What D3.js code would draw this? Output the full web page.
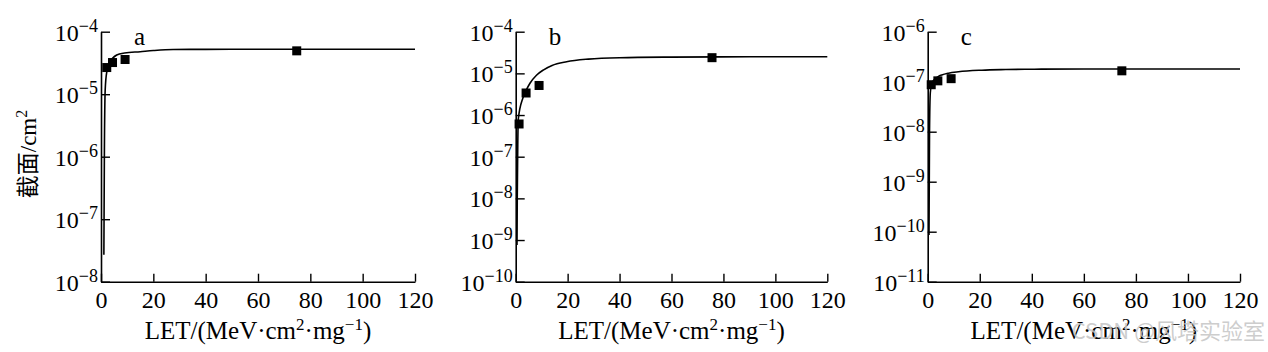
<!DOCTYPE html>
<html>
<head>
<meta charset="utf-8">
<script src="https://cdn.jsdelivr.net/npm/d3@7"></script>
<style>
  body { margin: 0; background: #fff; }
  svg { display: block; }
</style>
</head>
<body>
<div id="chart"></div>
<script>

// X ticks are shared by all three panels.
const let_ticks = [0, 20, 40, 60, 80, 100, 120];

// Panel a: tick exponents, measured points and fitted curve.
const a_exponents = [-8, -7, -6, -5, -4];
const a_let = [2.2, 4.4, 9.2, 74.8];
const a_sigma = [2.67e-5, 3.21e-5, 3.59e-5, 4.94e-5];
const a_fit_let = [1.1, 1.3, 1.6, 2.2, 3.5, 6, 9, 15, 20, 27.6, 40, 60, 90, 120];
const a_fit_sigma = [2.7e-8, 1.28e-6, 1.17e-5, 2.27e-5, 3.27e-5, 4.24e-5, 4.56e-5, 4.79e-5, 5.0e-5, 5.2e-5, 5.22e-5, 5.24e-5, 5.24e-5, 5.24e-5];

// Panel b.
const b_exponents = [-10, -9, -8, -7, -6, -5, -4];
const b_let = [1.3, 4.0, 9.0, 75.6];
const b_sigma = [6.1e-7, 3.38e-6, 5.12e-6, 2.38e-5];
const b_fit_let = [0.5, 0.6, 0.8, 1.0, 2.8, 4.1, 5.5, 8, 10.6, 14, 19.6, 28, 40, 60, 90, 120];
const b_fit_sigma = [7.6e-10, 1e-8, 2e-7, 8e-7, 2.6e-6, 4e-6, 5.8e-6, 9e-6, 1.2e-5, 1.55e-5, 1.9e-5, 2.2e-5, 2.38e-5, 2.46e-5, 2.5e-5, 2.5e-5];

// Panel c.
const c_exponents = [-11, -10, -9, -8, -7, -6];
const c_let = [1.35, 3.9, 9.0, 74.6];
const c_sigma = [8.7e-8, 1.04e-7, 1.15e-7, 1.65e-7];
const c_fit_let = [0.5, 0.7, 1.0, 1.5, 2.5, 4, 5.4, 8, 11.8, 20.8, 30, 41, 60, 90, 120];
const c_fit_sigma = [8.6e-11, 1e-8, 6e-8, 9e-8, 1.1e-7, 1.26e-7, 1.36e-7, 1.48e-7, 1.58e-7, 1.7e-7, 1.75e-7, 1.78e-7, 1.8e-7, 1.8e-7, 1.8e-7];

const panel_names = ['a', 'b', 'c'];

const SERIF = '"Liberation Serif", "Times New Roman", "Noto Sans CJK SC", serif';

// Layout per panel (pixel boxes of the plot area).
const layout = [
  { left: 101,   right: 415,  top: 31.7, bottom: 281.7 },
  { left: 515.7, right: 827.3, top: 31.7, bottom: 281.7 },
  { left: 927.7, right: 1240, top: 31.7, bottom: 281.7 }
];

const panels = [
  { exps: a_exponents, let: a_let, sigma: a_sigma, fit_let: a_fit_let, fit_sigma: a_fit_sigma },
  { exps: b_exponents, let: b_let, sigma: b_sigma, fit_let: b_fit_let, fit_sigma: b_fit_sigma },
  { exps: c_exponents, let: c_let, sigma: c_sigma, fit_let: c_fit_let, fit_sigma: c_fit_sigma }
];

const svg = d3.select('#chart')
  .append('svg')
    .attr('width', 1268)
    .attr('height', 352)
    .style('font-family', SERIF);

svg.append('rect').attr('width', 1268).attr('height', 352).attr('fill', '#fff');

// Append "10" plus a raised exponent to a text node.
function power_label(text, exp, base_size, sup_size, rise){
  text.append('tspan').attr('font-size', base_size).text('10');
  text.append('tspan').attr('font-size', sup_size).attr('dy', -rise).text('\u2212' + Math.abs(exp));
}

panels.forEach(function(p, i){
  const box = layout[i];
  const g = svg.append('g');

  const x = d3.scaleLinear().domain([0, 120]).range([box.left, box.right]);
  const y = d3.scaleLog()
    .domain([Math.pow(10, p.exps[0]), Math.pow(10, p.exps[p.exps.length - 1])])
    .range([box.bottom, box.top]);

  // Y axis, ticks pointing inward.
  const yg = g.append('g')
    .attr('transform', 'translate(' + box.left + ',0)')
    .call(d3.axisLeft(y)
      .tickValues(p.exps.map(function(e){ return Math.pow(10, e); }))
      .tickSize(-9).tickSizeOuter(0).tickFormat(''));
  yg.select('.domain').attr('stroke-width', 1.6);
  yg.selectAll('.tick line').attr('stroke-width', 1.4);
  yg.selectAll('.tick text').remove();
  yg.selectAll('.tick').each(function(d){
    const e = Math.round(Math.log10(d));
    const t = d3.select(this).append('text')
      .attr('x', -3).attr('y', 8.5)
      .attr('text-anchor', 'end')
      .attr('fill', '#000')
      .style('font-family', SERIF);
    power_label(t, e, 24, 18, 9);
  });

  // X axis, ticks pointing inward.
  const xg = g.append('g')
    .attr('transform', 'translate(0,' + box.bottom + ')')
    .call(d3.axisBottom(x).tickValues(let_ticks).tickSize(-8).tickSizeOuter(0));
  xg.select('.domain').attr('stroke-width', 1.6);
  xg.selectAll('.tick line').attr('stroke-width', 1.4);
  xg.selectAll('.tick text')
    .attr('y', 26.5).attr('dy', null)
    .attr('fill', '#000')
    .style('font-family', SERIF)
    .style('font-size', '24px');

  // Fitted curve.
  const line = d3.line()
    .x(function(d){ return x(d[0]); })
    .y(function(d){ return y(d[1]); })
    .curve(d3.curveMonotoneX);
  g.append('path')
    .datum(d3.zip(p.fit_let, p.fit_sigma))
    .attr('d', line)
    .attr('fill', 'none')
    .attr('stroke', '#000')
    .attr('stroke-width', 1.6);

  // Measured points.
  const s = 9;
  g.selectAll('rect.pt')
    .data(d3.zip(p.let, p.sigma))
    .enter().append('rect')
      .attr('class', 'pt')
      .attr('x', function(d){ return x(d[0]) - s / 2; })
      .attr('y', function(d){ return y(d[1]) - s / 2; })
      .attr('width', s)
      .attr('height', s)
      .attr('fill', '#000');

  // Panel letter.
  g.append('text')
    .attr('x', box.left + 33)
    .attr('y', 45)
    .style('font-family', SERIF)
    .style('font-size', '25px')
    .text(panel_names[i]);

  // X axis title.
  const xt = g.append('text')
    .attr('x', (box.left + box.right) / 2)
    .attr('y', 339)
    .attr('text-anchor', 'middle')
    .style('font-family', SERIF)
    .style('font-size', '25px');
  xt.append('tspan').text('LET/(MeV\u00b7cm');
  xt.append('tspan').attr('font-size', 17).attr('dy', -9).text('2');
  xt.append('tspan').attr('dy', 9).text('\u00b7mg');
  xt.append('tspan').attr('font-size', 17).attr('dy', -9).text('\u22121');
  xt.append('tspan').attr('dy', 9).text(')');
});

// Y axis title, only on the first panel.
const yt = svg.append('text')
  .attr('transform', 'translate(36,154) rotate(-90)')
  .attr('text-anchor', 'middle')
  .style('font-family', SERIF)
  .style('font-size', '23px');
yt.append('tspan').text('截面/cm');
yt.append('tspan').attr('font-size', 16).attr('dy', -9).text('2');

// Watermark in the lower right corner.
svg.append('text')
  .attr('x', 1265)
  .attr('y', 339)
  .attr('text-anchor', 'end')
  .style('font-family', '"Noto Sans CJK SC", "Noto Sans", sans-serif')
  .style('font-size', '22px')
  .attr('fill', '#c4c4c4')
  .attr('fill-opacity', 0.85)
  .text('CSDN @风塔实验室');

</script>
</body>
</html>
